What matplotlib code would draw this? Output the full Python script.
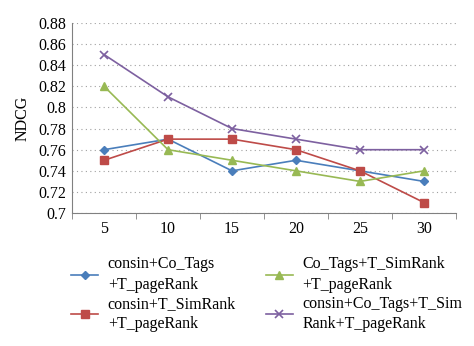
import matplotlib
matplotlib.use("Agg")
import matplotlib.pyplot as plt
import numpy as np

categories = ["5", "10", "15", "20", "25", "30"]
blue_vals = [0.76, 0.77, 0.74, 0.75, 0.74, 0.73]
red_vals = [0.75, 0.77, 0.77, 0.76, 0.74, 0.71]
green_vals = [0.82, 0.76, 0.75, 0.74, 0.73, 0.74]
purple_vals = [0.85, 0.81, 0.78, 0.77, 0.76, 0.76]
labels = ["consin+Co_Tags\n+T_pageRank",
          "consin+T_SimRank\n+T_pageRank",
          "Co_Tags+T_SimRank\n+T_pageRank",
          "consin+Co_Tags+T_Sim\nRank+T_pageRank"]

plt.rcParams["font.family"] = ["Liberation Serif", "DejaVu Serif"]

fig = plt.figure(figsize=(4.74, 3.46), dpi=100)
ax = fig.add_axes([0.152, 0.384, 0.81, 0.55])

x = np.arange(len(categories))
h1, = ax.plot(x, blue_vals, color="#4a7ebb", marker="D", markersize=4.5, lw=1.2)
h2, = ax.plot(x, red_vals, color="#be4b48", marker="s", markersize=6, lw=1.2)
h3, = ax.plot(x, green_vals, color="#98b954", marker="^", markersize=6, lw=1.2)
h4, = ax.plot(x, purple_vals, color="#7d60a0", marker="x", markersize=6, lw=1.2, mew=1.2)

ax.set_xlim(-0.5, 5.5)
ax.set_ylim(0.7, 0.88)
ax.set_yticks(np.arange(0.70, 0.881, 0.02))
ax.set_yticklabels(["0.7", "0.72", "0.74", "0.76", "0.78", "0.8", "0.82", "0.84", "0.86", "0.88"])
ax.set_xticks(x)
ax.set_xticklabels(categories)
ax.set_xticks(np.arange(-0.5, 5.6, 1), minor=True)
ax.tick_params(axis="x", which="major", length=0, labelsize=11.5, pad=6)
ax.tick_params(axis="x", which="minor", length=4, direction="out", color="#808080")
ax.tick_params(axis="y", length=0, labelsize=11.5, pad=4)
ax.yaxis.grid(True, linestyle=(0, (1, 3)), color="#a0a0a0", lw=0.8)
for s in ["top", "right"]:
    ax.spines[s].set_visible(False)
ax.spines["left"].set_color("#808080")
ax.spines["bottom"].set_color("#808080")
ax.set_ylabel("NDCG", fontsize=11.5, labelpad=6)

leg = fig.legend([h1, h2, h3, h4], labels, ncol=2, loc="upper left",
                 bbox_to_anchor=(0.15, 0.26), frameon=False, fontsize=11.5,
                 handlelength=1.7, labelspacing=0.2, columnspacing=1.85,
                 handletextpad=0.6, borderaxespad=0, borderpad=0)
for t in leg.get_texts():
    t.set_linespacing(1.38)

fig.savefig("out.png", dpi=100)
